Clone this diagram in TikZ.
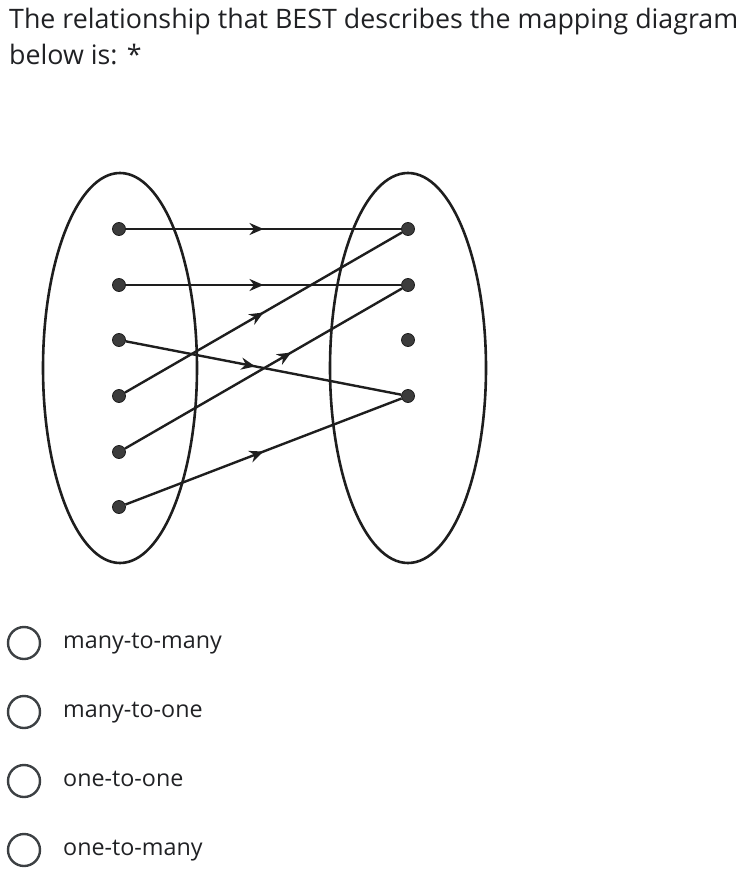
\documentclass[tikz,border=0pt]{standalone}
\usepackage{fontspec}
\setmainfont{Open Sans}
\usetikzlibrary{arrows.meta,decorations.markings}
\definecolor{txt}{HTML}{202124}
\definecolor{ink}{HTML}{1E1E1E}
\definecolor{dotc}{HTML}{3C3C3C}
\definecolor{radio}{HTML}{3C4043}
\tikzset{
  dot/.style={circle,fill=dotc,draw=ink,line width=0.8pt,inner sep=0pt,minimum size=13pt},
  setline/.style={draw=ink,line width=2.6pt},
  maparrow/.style={draw=ink,line width=2.4pt,postaction={decorate},
    decoration={markings,mark=at position #1 with {\arrow{Stealth[length=14pt,width=12pt,inset=4.5pt]}}}},
  maparrow/.default=0.5,
  question/.style={anchor=base west,inner sep=0pt,text=txt,font=\fontsize{26.8}{30}\selectfont},
  choice/.style={anchor=base west,inner sep=0pt,text=txt,font=\fontsize{23.3}{28}\selectfont},
  radiobtn/.style={circle,draw=radio,line width=2.4pt,minimum size=32pt,inner sep=0pt}
}
\begin{document}
\begin{tikzpicture}[x=1pt,y=-1pt]
\useasboundingbox (0,0) rectangle (741,872);
% question
\node[question] (q1) at (9,29) {The relationship that BEST describes the mapping diagram};
\node[question] (q2) at (9,65) {below is: *};
% sets
\draw[setline] (120,368) ellipse [x radius=77, y radius=195];
\draw[setline] (408,368) ellipse [x radius=78, y radius=195];
% dots
\foreach \i/\y in {1/229,2/285,3/340,4/396,5/452,6/507}
  \node[dot] (L\i) at (119,\y) {};
\foreach \i/\y in {1/229,2/285,3/340,4/396}
  \node[dot] (R\i) at (408,\y) {};
% mappings
\draw[maparrow] (L1) -- (R1);
\draw[maparrow] (L2) -- (R2);
\draw[maparrow=0.47] (L3) -- (R4);
\draw[maparrow] (L4) -- (R1);
\draw[maparrow=0.6] (L5) -- (R2);
\draw[maparrow] (L6) -- (R4);
% choices
\foreach \i/\y/\t in {1/643/many-to-many,2/712/many-to-one,3/781/one-to-one,4/850/one-to-many}{
  \node[radiobtn] (c\i) at (24,\y) {};
  \node[choice] (t\i) at (63,\y+5) {\t};
}
\end{tikzpicture}
\end{document}
